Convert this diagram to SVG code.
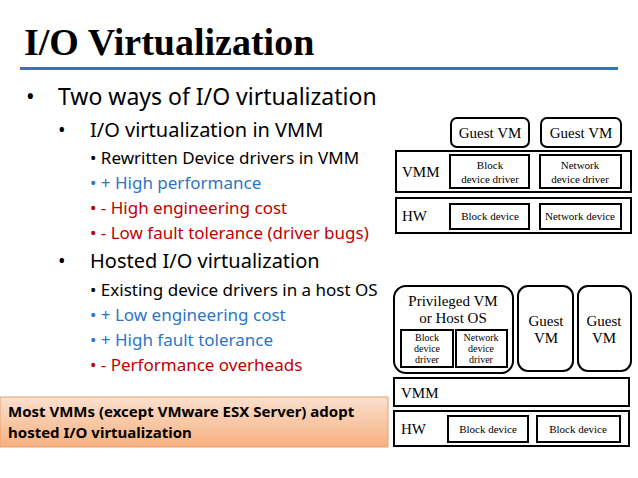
<svg xmlns="http://www.w3.org/2000/svg" width="638" height="478" viewBox="0 0 638 478">
<style>
.s{font-family:"Liberation Serif",serif;fill:#000;text-anchor:middle}
.b{fill:#fff;stroke:#000;stroke-width:2}
.t{font-family:"Noto Sans","Open Sans",sans-serif;font-size:17px}
</style>
<defs><linearGradient id="g" x1="0" y1="0" x2="0" y2="1"><stop offset="0" stop-color="#fbe0cf"/><stop offset="1" stop-color="#f6b07e"/></linearGradient></defs>
<rect width="638" height="478" fill="#fff"/>
<text x="24" y="55" font-family="Liberation Serif,serif" font-weight="bold" font-size="38">I/O Virtualization</text>
<rect x="20" y="67" width="598" height="3" fill="#2e75c6"/>
<g class="t">
<text x="26" y="105" font-size="23">•</text><text x="58" y="105" font-size="23">Two ways of I/O virtualization</text>
<text x="58" y="137" font-size="20">•</text><text x="90" y="137" font-size="20">I/O virtualization in VMM</text>
<text x="90" y="164">• Rewritten Device drivers in VMM</text>
<text x="90" y="189" fill="#2e75c6">• + High performance</text>
<text x="90" y="214" fill="#c00000">• - High engineering cost</text>
<text x="90" y="239" fill="#c00000">• - Low fault tolerance (driver bugs)</text>
<text x="58" y="268" font-size="20">•</text><text x="90" y="268" font-size="20">Hosted I/O virtualization</text>
<text x="90" y="296">• Existing device drivers in a host OS</text>
<text x="90" y="321" fill="#2e75c6">• + Low engineering cost</text>
<text x="90" y="346" fill="#2e75c6">• + High fault tolerance</text>
<text x="90" y="371" fill="#c00000">• - Performance overheads</text>
</g>
<g id="note"><rect x="0" y="397" width="388" height="50" fill="url(#g)" stroke="#e8a070"/>
<text font-family="Noto Sans,sans-serif" font-weight="bold" font-size="15" fill="#000"><tspan x="8" y="417">Most VMMs (except VMware ESX Server) adopt</tspan><tspan x="8" y="438">hosted I/O virtualization</tspan></text></g>
<g id="top">
<rect class="b" x="451" y="118" width="78" height="29" rx="6"/><text class="s" x="490" y="138" font-size="15">Guest VM</text>
<rect class="b" x="541" y="118" width="80" height="29" rx="6"/><text class="s" x="581" y="138" font-size="15">Guest VM</text>
<rect class="b" x="396" y="151" width="235" height="41"/><text x="402" y="177" font-family="Liberation Serif,serif" font-size="15">VMM</text>
<rect class="b" x="450" y="155" width="79" height="33"/><text class="s" x="490" y="169" font-size="11">Block</text><text class="s" x="490" y="183" font-size="11">device driver</text>
<rect class="b" x="540" y="155" width="81" height="33"/><text class="s" x="580" y="169" font-size="11">Network</text><text class="s" x="580" y="183" font-size="11">device driver</text>
<rect class="b" x="396" y="198" width="235" height="35"/><text x="402" y="221" font-family="Liberation Serif,serif" font-size="15">HW</text>
<rect class="b" x="450" y="204" width="79" height="25"/><text class="s" x="490" y="220" font-size="11">Block device</text>
<rect class="b" x="540" y="204" width="81" height="25"/><text class="s" x="580" y="220" font-size="11">Network device</text>
</g>
<g id="bottom">
<rect class="b" x="394" y="286" width="119" height="87" rx="12"/><text class="s" x="453" y="306" font-size="15">Privileged VM</text><text class="s" x="453" y="323" font-size="15">or Host OS</text>
<rect class="b" x="401" y="330" width="52" height="37"/><text class="s" x="427" y="341" font-size="10">Block</text><text class="s" x="427" y="352" font-size="10">device</text><text class="s" x="427" y="363" font-size="10">driver</text>
<rect class="b" x="456" y="330" width="51" height="37"/><text class="s" x="481" y="341" font-size="10">Network</text><text class="s" x="481" y="352" font-size="10">device</text><text class="s" x="481" y="363" font-size="10">driver</text>
<rect class="b" x="518" y="286" width="55" height="85" rx="10"/><text class="s" x="546" y="326" font-size="15">Guest</text><text class="s" x="546" y="343" font-size="15">VM</text>
<rect class="b" x="578" y="286" width="53" height="85" rx="10"/><text class="s" x="604" y="326" font-size="15">Guest</text><text class="s" x="604" y="343" font-size="15">VM</text>
<rect class="b" x="394" y="378" width="235" height="28"/><text x="401" y="398" font-family="Liberation Serif,serif" font-size="15">VMM</text>
<rect class="b" x="394" y="411" width="235" height="35"/><text x="401" y="434" font-family="Liberation Serif,serif" font-size="15">HW</text>
<rect class="b" x="448" y="416" width="80" height="26"/><text class="s" x="488" y="433" font-size="11">Block device</text>
<rect class="b" x="537" y="416" width="83" height="26"/><text class="s" x="578" y="433" font-size="11">Block device</text>
</g>
<g id="connectors"/>
</svg>
